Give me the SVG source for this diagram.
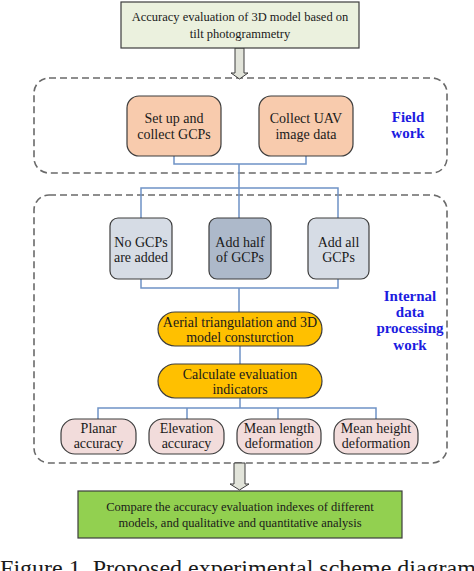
<svg xmlns="http://www.w3.org/2000/svg" width="474" height="571" viewBox="0 0 474 571">
<style>
text{font-family:"Liberation Serif","Times New Roman",serif;fill:#1a1a1a;text-anchor:middle}
.t12{font-size:12.5px}
.t14{font-size:14px}
.lab{font-size:15px;font-weight:bold;fill:#1c1ce0}
.frame{fill:none;stroke:#6a6a6a;stroke-width:1.6;stroke-dasharray:7,4}
.orange{fill:#f8cbad;stroke:#3d3d3d;stroke-width:1.2}
.blue{fill:#d6dce5;stroke:#3d3d3d;stroke-width:1.2}
.blue2{fill:#adb9ca;stroke:#3d3d3d;stroke-width:1.2}
.pill{fill:#ffc000;stroke:#3d3d3d;stroke-width:1.2}
.pink{fill:#f2dcdb;stroke:#3d3d3d;stroke-width:1.2}
.conn{fill:none;stroke:#6f93c6;stroke-width:1.5}
.harrow{fill:#e2e4da;stroke:#3d3d3d;stroke-width:1}
</style>
<rect width="474" height="571" fill="#ffffff"/>
<g id="frames">
<rect class="frame" x="34" y="78" width="413" height="95" rx="15"/>
<rect class="frame" x="34" y="195" width="413" height="268" rx="15"/>
</g>
<g id="connectors">
<path class="conn" d="M174 156V164H306V156M239 164V218M141 218V188H338V218M141 279V288H338V279M239 288V312M240 346V364M240 398V408M98 419V408H376V419M187 408V419M278 408V419"/>
<path class="harrow" d="M235 48V73H231L239.5 79L248 73H244V48Z"/>
<path class="harrow" d="M234 463V484H230L239.5 490L249 484H245V463Z"/>
</g>
<g id="top">
<rect x="121" y="2" width="238" height="46" fill="#ebf1de" stroke="#3d3d3d" stroke-width="1.2"/>
<text class="t12" x="240" y="21">Accuracy evaluation of 3D model based on</text>
<text class="t12" x="240" y="38">tilt photogrammetry</text>
</g>
<g id="setup">
<rect class="orange" x="127" y="96" width="94" height="60" rx="12"/>
<text class="t14" x="174" y="123">Set up and</text>
<text class="t14" x="174" y="139">collect GCPs</text>
</g>
<g id="uav">
<rect class="orange" x="259" y="96" width="94" height="60" rx="12"/>
<text class="t14" x="306" y="123">Collect UAV</text>
<text class="t14" x="306" y="139">image data</text>
</g>
<g id="fieldlabel">
<text class="lab" x="408" y="122">Field</text>
<text class="lab" x="408" y="138">work</text>
</g>
<g id="nogcp">
<rect class="blue" x="110" y="218" width="62" height="61" rx="8"/>
<text class="t14" x="141" y="247">No GCPs</text>
<text class="t14" x="141" y="262">are added</text>
</g>
<g id="half">
<rect class="blue2" x="209" y="218" width="62" height="61" rx="8"/>
<text class="t14" x="240" y="247">Add half</text>
<text class="t14" x="240" y="262">of GCPs</text>
</g>
<g id="all">
<rect class="blue" x="308" y="218" width="61" height="61" rx="8"/>
<text class="t14" x="338.5" y="247">Add all</text>
<text class="t14" x="338.5" y="262">GCPs</text>
</g>
<g id="internallabel">
<text class="lab" x="410" y="301">Internal</text>
<text class="lab" x="410" y="317">data</text>
<text class="lab" x="410" y="333">processing</text>
<text class="lab" x="410" y="350">work</text>
</g>
<g id="aerial">
<rect class="pill" x="158" y="312" width="164" height="34" rx="17"/>
<text class="t14" x="240" y="327">Aerial triangulation and 3D</text>
<text class="t14" x="240" y="342">model consturction</text>
</g>
<g id="calc">
<rect class="pill" x="158" y="364" width="164" height="34" rx="17"/>
<text class="t14" x="240" y="379">Calculate evaluation</text>
<text class="t14" x="240" y="394">indicators</text>
</g>
<g id="planar">
<rect class="pink" x="61" y="419" width="75" height="35" rx="14"/>
<text class="t14" x="98.5" y="433">Planar</text>
<text class="t14" x="98.5" y="448">accuracy</text>
</g>
<g id="elev">
<rect class="pink" x="149" y="419" width="75" height="35" rx="14"/>
<text class="t14" x="186.5" y="433">Elevation</text>
<text class="t14" x="186.5" y="448">accuracy</text>
</g>
<g id="mlen">
<rect class="pink" x="237" y="419" width="84" height="35" rx="14"/>
<text class="t14" x="279" y="433">Mean length</text>
<text class="t14" x="279" y="448">deformation</text>
</g>
<g id="mheight">
<rect class="pink" x="334" y="419" width="84" height="35" rx="14"/>
<text class="t14" x="376" y="433">Mean height</text>
<text class="t14" x="376" y="448">deformation</text>
</g>
<g id="compare">
<rect x="78" y="491" width="324" height="47" fill="#92d050" stroke="#3d3d3d" stroke-width="1.2"/>
<text class="t12" x="240" y="511">Compare the accuracy evaluation indexes of different</text>
<text class="t12" x="240" y="527">models, and qualitative and quantitative analysis</text>
</g>
<text x="238" y="576" style="font-size:24px">Figure 1. Proposed experimental scheme diagram</text>
</svg>
